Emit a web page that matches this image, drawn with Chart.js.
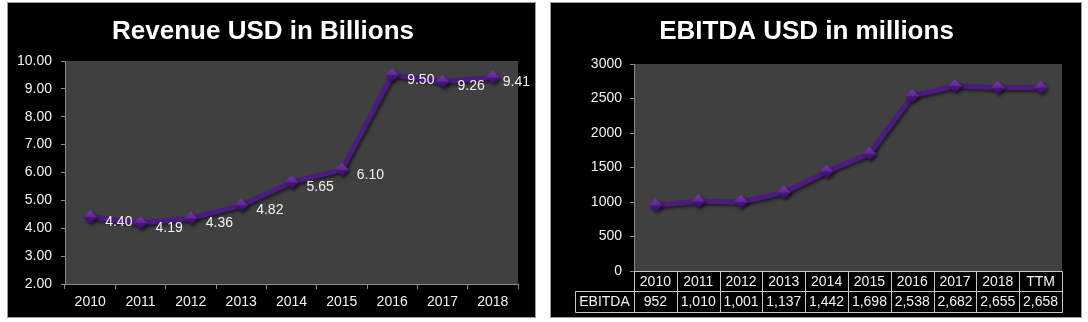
<!DOCTYPE html>
<html>
<head>
<meta charset="utf-8">
<script src="https://cdn.jsdelivr.net/npm/chart.js@4.4.1/dist/chart.umd.min.js"></script>
<style>
  html, body { margin: 0; padding: 0; background: #ffffff; width: 1088px; height: 322px; overflow: hidden; }
  .panel { position: absolute; background: #000; border: 1px solid #9a9a9a; box-sizing: border-box; }
  #p1 { left: 7px; top: 2px; width: 529px; height: 316px; }
  #p2 { left: 550px; top: 2px; width: 532px; height: 316px; }
  canvas { display: block; }
</style>
</head>
<body>
<div class="panel" id="p1"><canvas id="revenue" width="527" height="314"></canvas></div>
<div class="panel" id="p2"><canvas id="ebitda" width="530" height="314"></canvas></div>
<script>
// Revenue (USD billions)
const revenueYears = ['2010', '2011', '2012', '2013', '2014', '2015', '2016', '2017', '2018'];
const revenueValues = [4.40, 4.19, 4.36, 4.82, 5.65, 6.10, 9.50, 9.26, 9.41];
const revenueTickValues = [2, 3, 4, 5, 6, 7, 8, 9, 10];

// EBITDA (USD millions)
const ebitdaPeriods = ['2010', '2011', '2012', '2013', '2014', '2015', '2016', '2017', '2018', 'TTM'];
const ebitdaValues = [952, 1010, 1001, 1137, 1442, 1698, 2538, 2682, 2655, 2658];
const ebitdaTickValues = [0, 500, 1000, 1500, 2000, 2500, 3000];
const ebitdaRowLabel = 'EBITDA';

const FONT = 'Arial, "Liberation Sans", sans-serif';
const TEXT = '#f2f2f2';
const LINE = '#4b1b80';
const AXIS = '#8a8a8a';
const PLOT_BG = '#404040';

// Diamond marker: lighter upper half, darker lower half
function diamondMarker(r) {
  const c = document.createElement('canvas');
  c.width = c.height = 2 * r + 2;
  const g = c.getContext('2d');
  const m = r + 1;
  g.beginPath();
  g.moveTo(m, 1); g.lineTo(2 * r + 1, m); g.lineTo(m, 2 * r + 1); g.lineTo(1, m);
  g.closePath();
  const grad = g.createLinearGradient(0, 1, 0, 2 * r + 1);
  grad.addColorStop(0, '#7a38b2');
  grad.addColorStop(0.5, '#5f2696');
  grad.addColorStop(0.5, '#4a1878');
  grad.addColorStop(1, '#371060');
  g.fillStyle = grad;
  g.fill();
  return c;
}
const marker = diamondMarker(7);

const plotBackground = {
  id: 'plotBackground',
  beforeDraw(chart) {
    const { ctx, chartArea: a } = chart;
    ctx.save();
    ctx.fillStyle = PLOT_BG;
    ctx.fillRect(a.left, a.top, a.right - a.left, a.bottom - a.top);
    ctx.restore();
  }
};

const seriesShadow = {
  id: 'seriesShadow',
  beforeDatasetsDraw(chart) {
    const ctx = chart.ctx;
    ctx.save();
    ctx.shadowColor = 'rgba(0,0,0,0.55)';
    ctx.shadowOffsetX = 2;
    ctx.shadowOffsetY = 2;
    ctx.shadowBlur = 3;
  },
  afterDatasetsDraw(chart) {
    chart.ctx.restore();
  }
};

// Value labels to the right of each point, kept inside the canvas
const valueLabels = {
  id: 'valueLabels',
  afterDatasetsDraw(chart, args, opts) {
    const ctx = chart.ctx;
    const meta = chart.getDatasetMeta(0);
    const data = chart.data.datasets[0].data;
    ctx.save();
    ctx.font = '14px ' + FONT;
    ctx.fillStyle = TEXT;
    ctx.textAlign = 'left';
    ctx.textBaseline = 'middle';
    meta.data.forEach((pt, i) => {
      const text = data[i].toFixed(2);
      const wText = ctx.measureText(text).width;
      const x = Math.min(pt.x + opts.dx, chart.width - opts.edge - wText);
      ctx.fillText(text, x, pt.y + opts.dy);
    });
    ctx.restore();
  }
};

const dataTable = {
  id: 'dataTable',
  afterDraw(chart, args, opts) {
    const { ctx, chartArea } = chart;
    const xs = chart.scales.x;
    const labels = chart.data.labels;
    const vals = chart.data.datasets[0].data;
    const n = labels.length;
    const w = (xs.right - xs.left) / n;
    const top = chartArea.bottom;
    const mid = top + opts.rowHeights[0];
    const bottom = mid + opts.rowHeights[1];
    const left = xs.left;
    const headLeft = left - opts.headerWidth;
    const px = v => Math.round(v) + 0.5;

    ctx.save();
    ctx.strokeStyle = opts.borderColor;
    ctx.lineWidth = 1;
    ctx.beginPath();
    // horizontal rules
    ctx.moveTo(px(left), px(top)); ctx.lineTo(px(xs.right), px(top));
    ctx.moveTo(px(headLeft), px(mid)); ctx.lineTo(px(xs.right), px(mid));
    ctx.moveTo(px(headLeft), px(bottom)); ctx.lineTo(px(xs.right), px(bottom));
    // vertical rules
    ctx.moveTo(px(headLeft), px(mid)); ctx.lineTo(px(headLeft), px(bottom));
    for (let i = 0; i <= n; i++) {
      const x = px(left + i * w);
      ctx.moveTo(x, px(top)); ctx.lineTo(x, px(bottom));
    }
    ctx.stroke();

    ctx.font = '14px ' + FONT;
    ctx.fillStyle = TEXT;
    ctx.textAlign = 'center';
    ctx.textBaseline = 'middle';
    const y1 = (top + mid) / 2 + 1;
    const y2 = (mid + bottom) / 2 + 1;
    ctx.fillText(opts.rowLabel, (headLeft + left) / 2, y2);
    for (let i = 0; i < n; i++) {
      const cx = left + (i + 0.5) * w;
      ctx.fillText(labels[i], cx, y1);
      ctx.fillText(vals[i].toLocaleString('en-US'), cx, y2);
    }
    ctx.restore();
  }
};

function lineDataset(values) {
  return {
    data: values,
    borderColor: LINE,
    backgroundColor: LINE,
    borderWidth: 5,
    tension: 0,
    fill: false,
    pointStyle: marker,
    pointRadius: 7,
    pointHoverRadius: 7
  };
}

new Chart(document.getElementById('revenue'), {
  type: 'line',
  data: { labels: revenueYears, datasets: [lineDataset(revenueValues)] },
  options: {
    responsive: false,
    animation: false,
    devicePixelRatio: 1,
    layout: { padding: { left: 0, right: 17, top: 0, bottom: 0 } },
    plugins: {
      legend: { display: false },
      tooltip: { enabled: false },
      title: {
        display: true,
        text: 'Revenue USD in Billions',
        color: '#ffffff',
        font: { family: FONT, size: 26, weight: 'bold', lineHeight: 1.2 },
        padding: { top: 13.4, bottom: 13.4 }
      },
      valueLabels: { dx: 15, dy: 5, edge: 5 }
    },
    scales: {
      x: {
        offset: true,
        grid: { offset: true, drawOnChartArea: false, drawTicks: true, tickLength: 5, color: AXIS },
        border: { display: true, color: AXIS },
        ticks: { color: TEXT, font: { family: FONT, size: 14 }, padding: 5, maxRotation: 0, autoSkip: false },
        afterFit(s) { s.height = 33; }
      },
      y: {
        min: revenueTickValues[0],
        max: revenueTickValues[revenueTickValues.length - 1],
        afterBuildTicks(s) { s.ticks = revenueTickValues.map(v => ({ value: v })); },
        grid: { drawOnChartArea: false, drawTicks: true, tickLength: 4, color: AXIS },
        border: { display: true, color: AXIS },
        ticks: { color: TEXT, font: { family: FONT, size: 14 }, padding: 9, callback: v => Number(v).toFixed(2) },
        afterFit(s) { s.width = 57; }
      }
    }
  },
  plugins: [plotBackground, seriesShadow, valueLabels]
});

new Chart(document.getElementById('ebitda'), {
  type: 'line',
  data: { labels: ebitdaPeriods, datasets: [lineDataset(ebitdaValues)] },
  options: {
    responsive: false,
    animation: false,
    devicePixelRatio: 1,
    layout: { padding: { left: 0, right: 19, top: 0, bottom: 0 } },
    plugins: {
      legend: { display: false },
      tooltip: { enabled: false },
      title: {
        display: true,
        text: 'EBITDA USD in millions',
        color: '#ffffff',
        font: { family: FONT, size: 26, weight: 'bold', lineHeight: 1.2 },
        padding: { top: 13.4, bottom: 16.4 }
      },
      dataTable: { rowHeights: [19.5, 21], headerWidth: 59, borderColor: '#c8c8c8', rowLabel: ebitdaRowLabel }
    },
    scales: {
      x: {
        offset: true,
        grid: { display: false, offset: true },
        border: { display: false },
        ticks: { display: false },
        afterFit(s) { s.height = 46; }
      },
      y: {
        min: ebitdaTickValues[0],
        max: ebitdaTickValues[ebitdaTickValues.length - 1],
        afterBuildTicks(s) { s.ticks = ebitdaTickValues.map(v => ({ value: v })); },
        grid: { drawOnChartArea: false, drawTicks: true, tickLength: 4, color: AXIS },
        border: { display: true, color: AXIS },
        ticks: { color: TEXT, font: { family: FONT, size: 14 }, padding: 8, callback: v => String(v) },
        afterFit(s) { s.width = 83; }
      }
    }
  },
  plugins: [plotBackground, seriesShadow, dataTable]
});
</script>
</body>
</html>
